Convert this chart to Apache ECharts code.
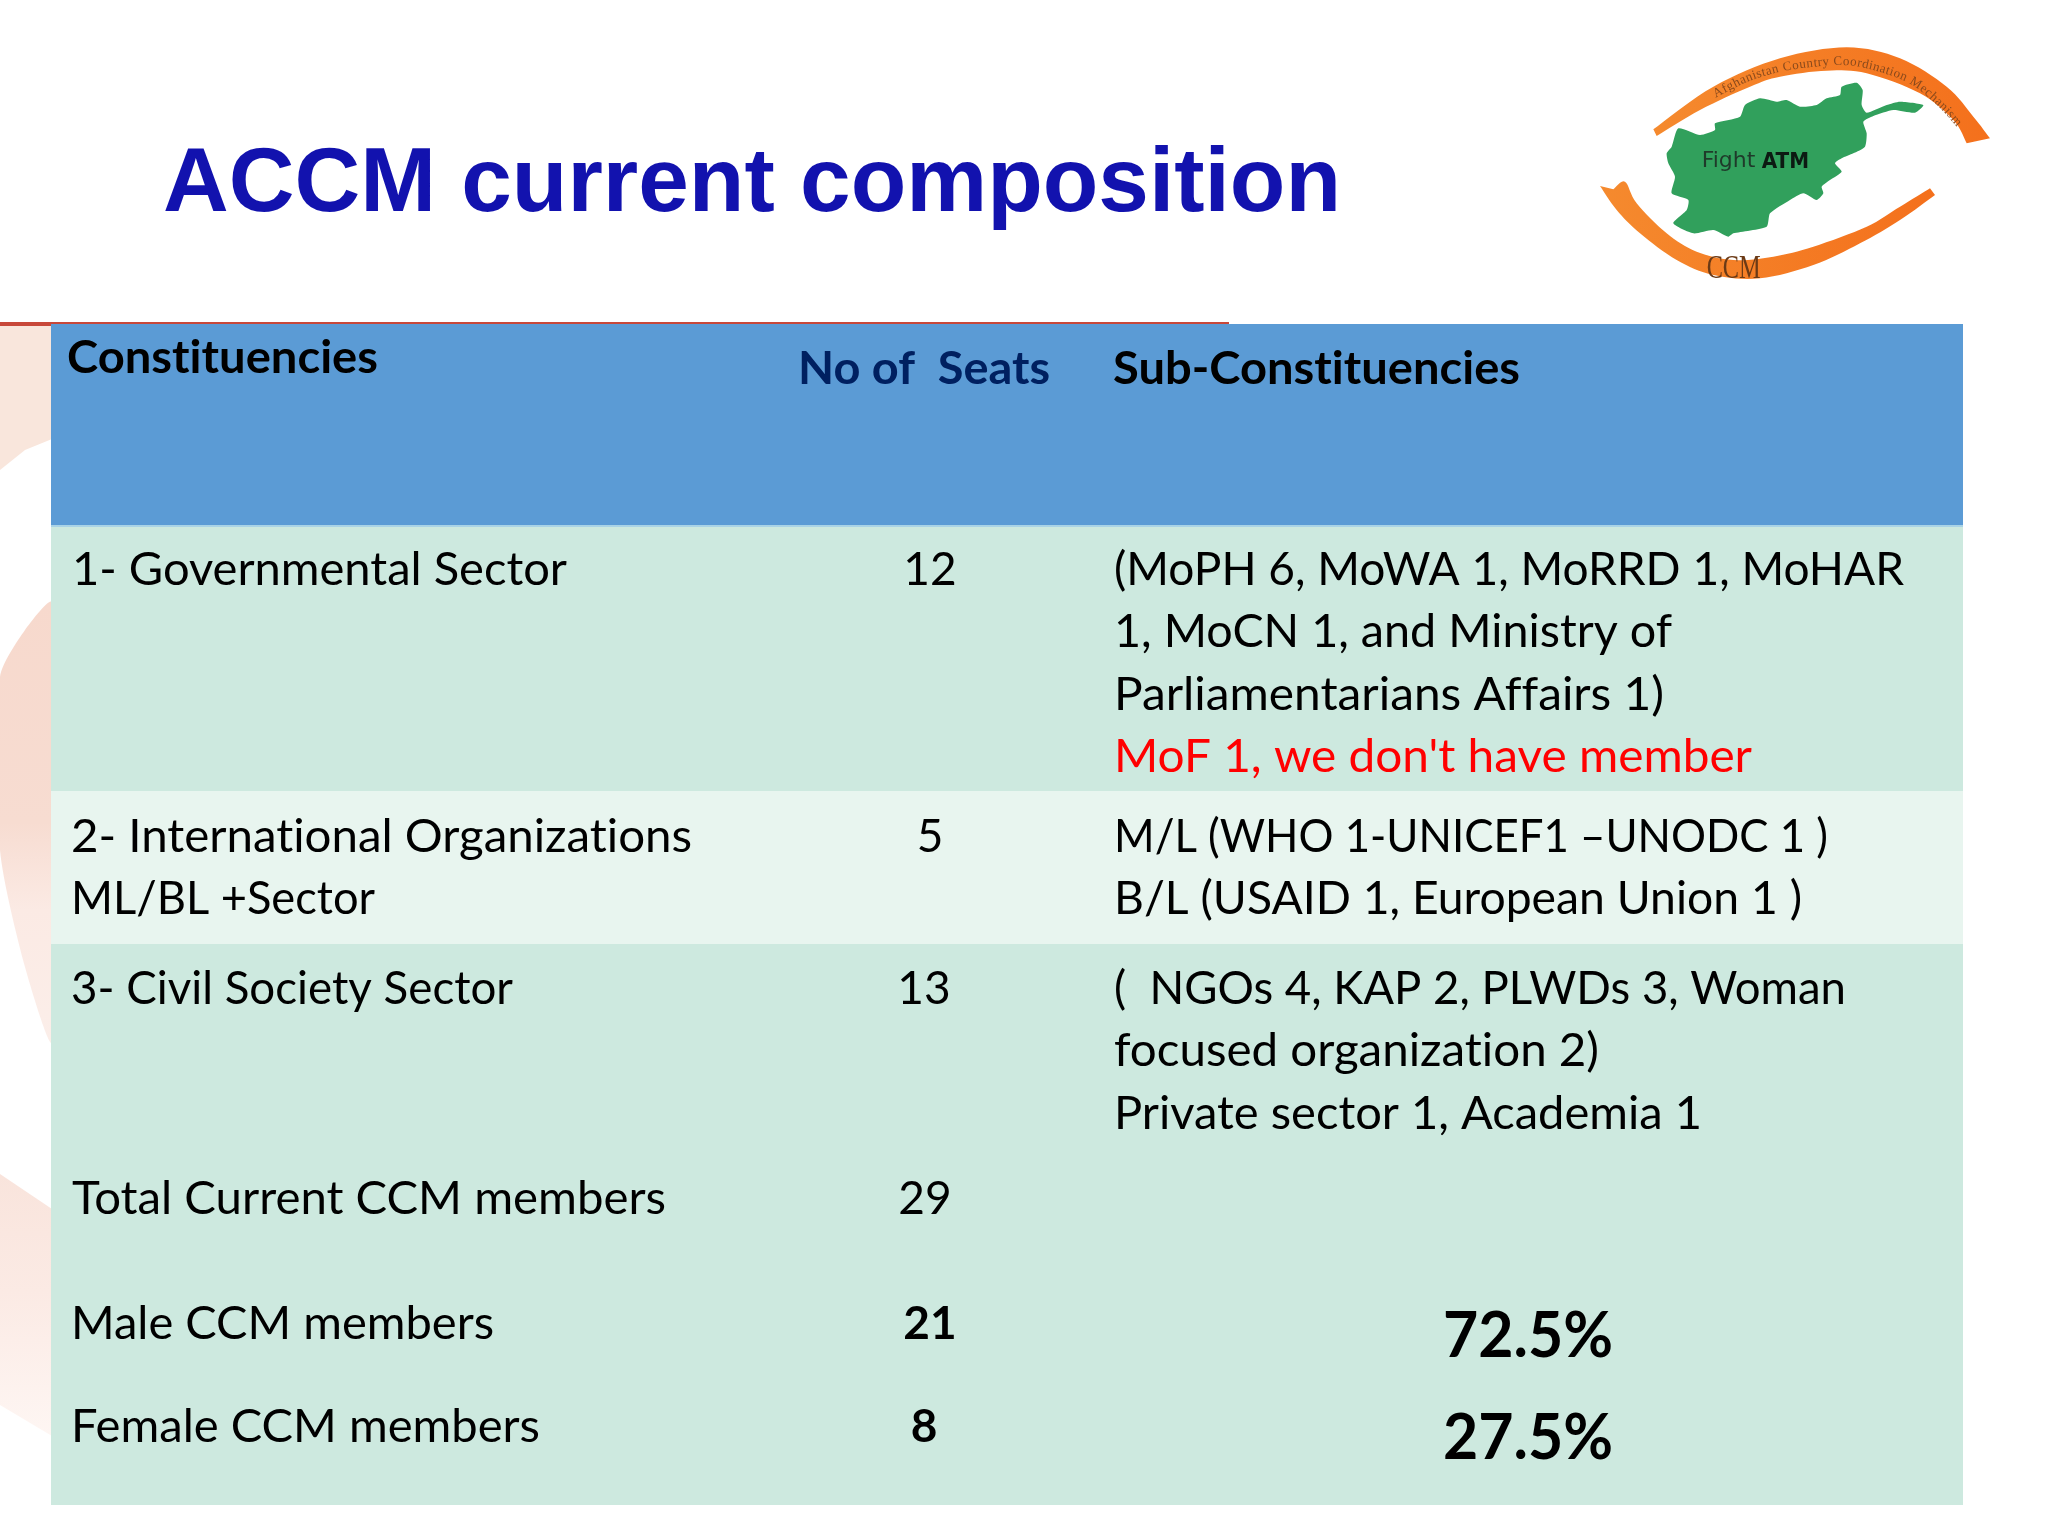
<!DOCTYPE html>
<html>
<head>
<meta charset="utf-8">
<title>ACCM current composition</title>
<script src="https://cdn.jsdelivr.net/npm/echarts@6/dist/echarts.min.js"></script>
<style>
html, body { margin: 0; padding: 0; background: #fff; }
#main { width: 2048px; height: 1536px; }
</style>
</head>
<body>
<div id="main"></div>
<script>
// table content
var titleText = 'ACCM current composition';
var headers = ['Constituencies', 'No of  Seats', 'Sub-Constituencies'];
var constituencies = [
    ['1- Governmental Sector'],
    ['2- International Organizations', 'ML/BL +Sector'],
    ['3- Civil Society Sector'],
    ['Total Current CCM members'],
    ['Male CCM members'],
    ['Female CCM members']
];
var seats = [12, 5, 13, 29, 21, 8];
var subConstituencies = [
    ['(MoPH 6, MoWA 1, MoRRD 1, MoHAR', '1, MoCN 1, and Ministry of', 'Parliamentarians Affairs 1)'],
    ['M/L (WHO 1-UNICEF1 \u2013UNODC 1 )', 'B/L (USAID 1, European Union 1 )'],
    ['(  NGOs 4, KAP 2, PLWDs 3, Woman', 'focused organization 2)', 'Private sector 1, Academia 1']
];
var missingMember = "MoF 1, we don't have member";
var percentages = ['72.5%', '27.5%'];

// layout, in page pixels
var lineGap = 62.5;
var headerLeft = [67, 798, 1113];
var headerBase = [372, 383, 383];
var headerWidth = [311, 252, 407];
var labelBase = [584, 851, 1003, 1213, 1338, 1441];
var labelLeft = [72, 71, 71, 72, 71, 71];
var labelWidth = [[495], [621, 304], [442], [594], [423], [469]];
var seatCenter = [930, 930, 924, 925, 930, 924];
var subBase = [584, 851, 1003];
var subWidth = [[790, 558, 550], [714, 688], [732, 485, 588]];
var missingWidth = 638;
var percentBase = [1356, 1458];
var percentWidth = 170;
var bandTop = [324, 525, 527, 791, 944];
var bandBottom = [525, 527, 791, 944, 1505];
var bandColor = ['#5b9bd5', '#a9d3e6', '#cde9df', '#e8f5ef', '#cde9df'];

var BODY = 46;
var BIG = 63;
var FONT = 'Lato';
var cells = [];

// Lato has ti ligatures that the slide font does not
var measureCtx = document.createElement('canvas').getContext('2d');
measureCtx.textRendering = 'optimizeSpeed';

function addCell(text, x, base, size, weight, color, align, width) {
    var font = weight + ' ' + size + 'px ' + FONT;
    measureCtx.font = font;
    cells.push({
        text: String(text), x: x, base: base, size: size, font: font, color: color, align: align,
        stretch: width ? width / measureCtx.measureText(String(text)).width : 1
    });
}

headers.forEach(function (h, i) {
    addCell(h, headerLeft[i], headerBase[i], BODY, 'bold', i === 1 ? '#002060' : '#000', 'left', headerWidth[i]);
});
constituencies.forEach(function (lines, i) {
    lines.forEach(function (line, j) {
        addCell(line, labelLeft[i], labelBase[i] + j * lineGap, BODY, 'normal', '#000', 'left', labelWidth[i][j]);
    });
    addCell(seats[i], seatCenter[i], labelBase[i], BODY, i >= 4 ? 'bold' : 'normal', '#000', 'center');
});
subConstituencies.forEach(function (lines, i) {
    lines.forEach(function (line, j) {
        addCell(line, 1114, subBase[i] + j * lineGap, BODY, 'normal', '#000', 'left', subWidth[i][j]);
    });
});
addCell(missingMember, 1114, 771, BODY, 'normal', '#ff0000', 'left', missingWidth);
percentages.forEach(function (p, i) {
    addCell(p, 1528, percentBase[i], BIG, 'bold', '#000', 'center', percentWidth);
});

// logo outline, traced in a 3x crop that starts at (1600, 30)
var arcTopOuter = [[160,298],[340,170],[540,85],[740,52],[900,85],[1040,170],[1120,260],[1170,325]];
var arcTopInner = [[1100,340],[1060,270],[960,190],[800,130],[680,122],[540,140],[450,170],[300,240],[170,318]];
var arcBottomOuter = [[0,468],[50,540],[120,610],[230,690],[340,735],[480,745],[640,705],[780,640],[900,570],[1005,495]];
var arcBottomInner = [[990,475],[900,530],[800,590],[640,650],[520,680],[400,690],[290,665],[200,610],[110,520],[75,455],[40,478]];
var mapOutline = [[235,295],[300,315],[345,300],[345,280],[420,260],[435,225],[480,205],[530,215],[560,210],[600,230],[650,225],[680,205],[720,195],[725,170],[770,158],[788,180],[785,225],[800,248],[860,225],[900,215],[970,225],[945,248],[880,240],[820,258],[790,275],[800,310],[795,350],[760,370],[725,385],[705,400],[725,425],[690,450],[665,470],[670,490],[650,510],[610,490],[570,510],[510,550],[500,590],[400,610],[385,620],[340,600],[280,610],[220,580],[260,540],[265,510],[215,490],[225,440],[205,400],[200,370],[215,350]];
var arcTextPath = [[340,195],[440,145],[540,115],[640,100],[740,95],[840,115],[940,155],[1020,220],[1080,285]];
var arcText = 'Afghanistan Country Coordination Mechanism';

function logoPt(p) {
    return [1600 + p[0] / 3, 30 + p[1] / 3];
}

// catmull-rom through the points, ends stay sharp
function curve(pts) {
    var out = [];
    for (var i = 0; i < pts.length - 1; i++) {
        var p0 = pts[Math.max(i - 1, 0)], p1 = pts[i], p2 = pts[i + 1], p3 = pts[Math.min(i + 2, pts.length - 1)];
        for (var k = 0; k < 8; k++) {
            var t = k / 8, t2 = t * t, t3 = t2 * t;
            out.push(logoPt([
                0.5 * (2 * p1[0] + (p2[0] - p0[0]) * t + (2 * p0[0] - 5 * p1[0] + 4 * p2[0] - p3[0]) * t2 + (3 * p1[0] - p0[0] - 3 * p2[0] + p3[0]) * t3),
                0.5 * (2 * p1[1] + (p2[1] - p0[1]) * t + (2 * p0[1] - 5 * p1[1] + 4 * p2[1] - p3[1]) * t2 + (3 * p1[1] - p0[1] - 3 * p2[1] + p3[1]) * t3)
            ]));
        }
    }
    out.push(logoPt(pts[pts.length - 1]));
    return out;
}

// one rotated letter at a time along the top arc
function arcLetters() {
    var pts = curve(arcTextPath);
    var lens = [0];
    for (var i = 1; i < pts.length; i++) {
        lens.push(lens[i - 1] + Math.hypot(pts[i][0] - pts[i - 1][0], pts[i][1] - pts[i - 1][1]));
    }
    var ctx = document.createElement('canvas').getContext('2d');
    ctx.font = '13px "Liberation Serif"';
    var widths = arcText.split('').map(function (c) { return ctx.measureText(c).width; });
    var total = widths.reduce(function (a, b) { return a + b; }, 0);
    var stretch = lens[lens.length - 1] / total;
    var walked = 0, seg = 0, out = [];
    arcText.split('').forEach(function (c, i) {
        var at = walked + widths[i] * stretch / 2;
        while (seg < lens.length - 2 && lens[seg + 1] < at) seg++;
        var f = (at - lens[seg]) / (lens[seg + 1] - lens[seg]);
        var x = pts[seg][0] + (pts[seg + 1][0] - pts[seg][0]) * f;
        var y = pts[seg][1] + (pts[seg + 1][1] - pts[seg][1]) * f;
        var angle = Math.atan2(pts[seg + 1][1] - pts[seg][1], pts[seg + 1][0] - pts[seg][0]);
        out.push({
            type: 'text', x: x, y: y, rotation: -angle, silent: true,
            style: { text: c, font: '13px "Liberation Serif"', fill: '#8a4a1c', textAlign: 'center', textVerticalAlign: 'middle' }
        });
        walked += widths[i] * stretch;
    });
    return out;
}

function logoText(text, x, y, font, fill, sx, sy) {
    var p = logoPt([x, y]);
    return { type: 'text', x: p[0], y: p[1], scaleX: sx || 1, scaleY: sy || 1, silent: true,
        style: { text: text, font: font, fill: fill, textAlign: 'left', textVerticalAlign: 'middle' } };
}

var orange = new echarts.graphic.LinearGradient(0, 0, 1, 0, [
    { offset: 0, color: '#f58a2e' }, { offset: 1, color: '#f4701c' }
]);

var myChart = echarts.init(document.getElementById('main'));
// same switch on the drawing context, so no ligatures on the page either
myChart.getZr().painter.getLayer(0).ctx.textRendering = 'optimizeSpeed';

var option = {
    animation: false,
    backgroundColor: '#ffffff',
    grid: { left: 0, right: 0, top: 0, bottom: 0 },
    xAxis: { type: 'value', min: 0, max: 2048, show: false },
    yAxis: { type: 'value', min: 0, max: 1536, inverse: true, show: false },
    graphic: [
        // faded picture behind the table, only its left edge shows
        { type: 'polygon', silent: true, shape: { points: [[0, 326], [52, 326], [52, 439], [25, 450], [0, 470]] }, style: { fill: '#f9e6dc' } },
        { type: 'polygon', silent: true, shape: { smooth: 0.25, points: [[52, 603], [25, 630], [0, 677], [0, 850], [25, 967], [52, 1041]] },
            style: { fill: new echarts.graphic.LinearGradient(0, 0, 0, 1, [
                { offset: 0, color: '#f7d9cd' }, { offset: 0.5, color: '#f7dcd1' }, { offset: 0.7, color: '#fbeae4' }, { offset: 1, color: '#fbeee9' }
            ]) } },
        { type: 'polygon', silent: true, shape: { points: [[0, 1174], [52, 1209], [52, 1436], [0, 1405]] },
            style: { fill: new echarts.graphic.LinearGradient(0, 0, 0, 1, [
                { offset: 0, color: '#f9e4dc' }, { offset: 0.45, color: '#fbeae4' }, { offset: 1, color: '#fef6f3' }
            ]) } },
        { type: 'rect', silent: true, shape: { x: 0, y: 322, width: 1229, height: 4 }, style: { fill: '#c8483a' } },
        { type: 'text', x: 163, y: 186, silent: true,
            style: { text: titleText, font: 'bold 91px "Liberation Sans"', fill: '#1212ae', textAlign: 'left', textVerticalAlign: 'middle' } },
        { type: 'polygon', silent: true, shape: { points: curve(arcTopOuter).concat(curve(arcTopInner)) }, style: { fill: orange } },
        { type: 'polygon', silent: true, shape: { points: curve(arcBottomOuter).concat(curve(arcBottomInner)) }, style: { fill: orange } },
        { type: 'polygon', silent: true, shape: { points: mapOutline.map(logoPt), smooth: 0.2 }, style: { fill: '#31a05c' } },
        logoText('Fight', 305, 395, '22px "DejaVu Sans"', '#1f3a2a'),
        logoText('ATM', 485, 397, 'bold 21px "DejaVu Sans"', '#0c1a12', 0.95),
        logoText('CCM', 320, 716, '27px "Liberation Serif"', '#6b3a16', 0.9, 1.25)
    ].concat(arcLetters()),
    series: [
        {
            type: 'custom',
            coordinateSystem: 'cartesian2d',
            silent: true,
            data: bandTop.map(function (t, i) { return [i]; }),
            renderItem: function (params, api) {
                var i = api.value(0);
                var a = api.coord([51, bandTop[i]]);
                var b = api.coord([1963, bandBottom[i]]);
                return { type: 'rect', shape: { x: a[0], y: a[1], width: b[0] - a[0], height: b[1] - a[1] }, style: { fill: bandColor[i] } };
            }
        },
        {
            type: 'custom',
            coordinateSystem: 'cartesian2d',
            silent: true,
            z: 5,
            data: cells.map(function (c, i) { return [c.x, c.base, i]; }),
            renderItem: function (params, api) {
                var c = cells[api.value(2)];
                var p = api.coord([api.value(0), api.value(1)]);
                return {
                    type: 'text',
                    x: p[0],
                    y: p[1] - c.size * 0.31,
                    scaleX: c.stretch,
                    style: {
                        text: c.text,
                        font: c.font,
                        fill: c.color,
                        textAlign: c.align,
                        textVerticalAlign: 'middle'
                    }
                };
            }
        }
    ]
};
myChart.setOption(option);
</script>
</body>
</html>
